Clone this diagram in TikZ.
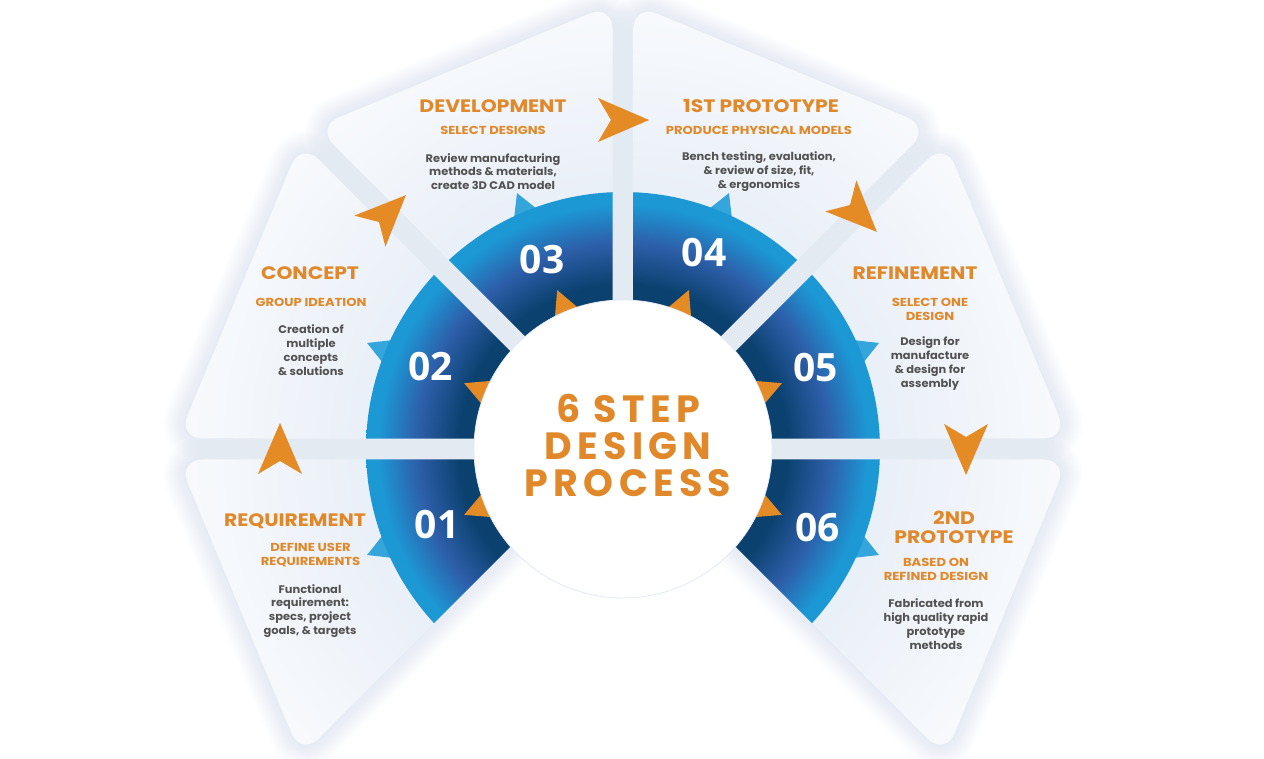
\documentclass[tikz,border=0pt]{standalone}
\usepackage{fontspec}
\setmainfont{Poppins}
\newfontfamily\numfont{Open Sans}
\newfontfamily\centerfont{Poppins}[LetterSpace=14]
\newfontfamily\widefont{Poppins}[FakeStretch=1.13]
\newfontfamily\bodyfont{Poppins}[FakeStretch=1.04]
\usetikzlibrary{calc}
\definecolor{navy}{HTML}{0B416F}
\definecolor{midblue}{HTML}{2D5EA9}
\definecolor{lightblue}{HTML}{1C98D5}
\definecolor{tabblue}{HTML}{35A6DC}
\definecolor{orng}{HTML}{E48B25}
\definecolor{txtorange}{HTML}{E0882A}
\definecolor{bodygray}{HTML}{525252}
\definecolor{triin}{HTML}{E9EFF7}
\definecolor{triout}{HTML}{F8FAFD}
\definecolor{glowcol}{HTML}{C2D4EB}
\definecolor{rimcol}{HTML}{E3EAF4}
\pgfdeclareradialshading{ringshade}{\pgfpoint{0bp}{0bp}}{color(0bp)=(navy); color(16bp)=(navy); color(20bp)=(midblue); color(23.8bp)=(lightblue); color(25bp)=(lightblue); color(50bp)=(lightblue)}
\pgfdeclareradialshading{trishade}{\pgfpoint{0bp}{0bp}}{color(0bp)=(triin); color(14bp)=(triin); color(25bp)=(triout); color(50bp)=(triout)}
\begin{document}
\begin{tikzpicture}[x=1pt,y=1pt,
  ttl/.style={text=txtorange, font=\widefont\bfseries\fontsize{18}{19}\selectfont, align=center, inner sep=0pt},
  sub/.style={text=txtorange, font=\widefont\bfseries\fontsize{11.6}{14}\selectfont, align=center, inner sep=0pt},
  body/.style={text=bodygray, font=\bodyfont\bfseries\fontsize{11}{13.8}\selectfont, align=center, inner sep=0pt},
  num/.style={text=white, font=\numfont\bfseries\fontsize{39}{40}\selectfont, inner sep=0pt},
  ctext/.style={text=txtorange, font=\centerfont\bfseries\fontsize{38}{37}\selectfont, align=center, inner sep=0pt},
  arrowhd/.style={fill=orng},
  glowline/.style={draw=glowcol, rounded corners=25},
]
\useasboundingbox (0,0) rectangle (1264,758);
\fill[white] (0,0) rectangle (1264,758);
\coordinate (C) at (623,309);

% geometry of the six wedges
\foreach \i in {1,...,6}{
  \pgfmathsetmacro{\a}{225-45*\i}
  \pgfmathsetmacro{\b}{\a+45}
  \pgfmathsetmacro{\m}{\a+22.5}
  \pgfmathsetmacro{\ap}{\a+90}
  \pgfmathsetmacro{\bm}{\b-90}
  \coordinate (A\i) at ($(C)+(\m:27.4)$);
  \coordinate (Va\i) at ($(C)+(\a:445)+(\ap:10.5)$);
  \coordinate (Vb\i) at ($(C)+(\b:445)+(\bm:10.5)$);
}

% soft glow around the triangles
\foreach \i in {1,...,6}{
  \foreach \w in {44,40,36,32,28,24,20,16,12,8,4}{
    \draw[glowline, line width=\w, opacity=0.034] (A\i) -- (Va\i) -- (Vb\i) -- cycle;
  }
}
% triangle panels
\foreach \i in {1,...,6}{
  \begin{scope}
    \clip[rounded corners=25] (A\i) -- (Va\i) -- (Vb\i) -- cycle;
    \shade[shading=trishade] (C) circle[radius=445];
  \end{scope}
}

% light blue tabs on the outer rim
\foreach \i in {1,...,6}{
  \pgfmathsetmacro{\m}{225-45*\i+22.5}
  \pgfmathsetmacro{\mlo}{\m-3.5}
  \pgfmathsetmacro{\mhi}{\m+3.5}
  \fill[tabblue] ($(C)+(\mlo:250)$) -- ($(C)+(\m:277)$) -- ($(C)+(\mhi:250)$) -- cycle;
}

% ring segments
\foreach \i in {1,...,6}{
  \pgfmathsetmacro{\a}{225-45*\i}
  \pgfmathsetmacro{\s}{\a+2.34}
  \pgfmathsetmacro{\e}{\a+45-2.34}
  \begin{scope}
    \clip (A\i) -- ($(C)+(\s:257)$) arc[start angle=\s, end angle=\e, radius=257] -- cycle;
    \shade[shading=ringshade] (C) circle[radius=257];
  \end{scope}
}

% orange pointers on the inner rim
\foreach \i in {1,...,6}{
  \pgfmathsetmacro{\m}{225-45*\i+22.5}
  \pgfmathsetmacro{\mlo}{\m-7}
  \pgfmathsetmacro{\mhi}{\m+7}
  \fill[orng] ($(C)+(\mlo:140)$) -- ($(C)+(\m:172)$) -- ($(C)+(\mhi:140)$) -- cycle;
}

% centre disc
\fill[white] (C) circle[radius=149];
\draw[rimcol, line width=0.8] (C) circle[radius=149];

% orange arrows between the panels
\foreach \ang/\r in {180/343, 135/333, 90/329, 45/333, 0/343}{
  \pgfmathsetmacro{\d}{\ang-90}
  \fill[arrowhd, shift={($(C)+(\ang:\r)$)}, rotate=\d] (26,0) -- (-25,22) -- (-12,0) -- (-25,-22) -- cycle;
}

% centre title
\node[ctext] (ct) at (628,758-445) {6 STEP\\DESIGN\\PROCESS};

% step numbers
\node[num] (n1) at (437,758-525) {01};
\node[num] (n2) at (430.5,758-367) {02};
\node[num] (n3) at (542,758-260) {03};
\node[num] (n4) at (704,758-253) {04};
\node[num] (n5) at (815.5,758-367.5) {05};
\node[num] (n6) at (817.5,758-528) {06};

% step 1
\node[ttl] (t1) at (295,758-521) {REQUIREMENT};
\node[sub] (s1) at (310.5,758-555) {DEFINE USER\\REQUIREMENTS};
\node[body] (b1) at (310,758-611) {Functional\\requirement:\\specs, project\\goals, \& targets};
% step 2
\node[ttl] (t2) at (310,758-273) {CONCEPT};
\node[sub] (s2) at (311,758-302) {GROUP IDEATION};
\node[body] (b2) at (311,758-350) {Creation of\\multiple\\concepts\\\& solutions};
% step 3
\node[ttl] (t3) at (493,758-106) {DEVELOPMENT};
\node[sub] (s3) at (493,758-130) {SELECT DESIGNS};
\node[body] (b3) at (493,758-171.5) {Review manufacturing\\methods \& materials,\\create 3D CAD model};
% step 4
\node[ttl] (t4) at (761,758-106) {1ST PROTOTYPE};
\node[sub] (s4) at (759,758-130) {PRODUCE PHYSICAL MODELS};
\node[body] (b4) at (759,758-171.5) {Bench testing, evaluation,\\\& review of size, fit,\\\& ergonomics};
% step 5
\node[ttl] (t5) at (915,758-273) {REFINEMENT};
\node[sub] (s5) at (930,758-309) {SELECT ONE\\DESIGN};
\node[body] (b5) at (930,758-363.5) {Design for\\manufacture\\\& design for\\assembly};
% step 6
\node[ttl] (t6) at (954,758-527.5) {2ND\\PROTOTYPE};
\node[sub] (s6) at (936,758-569.5) {BASED ON\\REFINED DESIGN};
\node[body] (b6) at (936,758-624) {Fabricated from\\high quality rapid\\prototype\\methods};
\end{tikzpicture}
\end{document}
